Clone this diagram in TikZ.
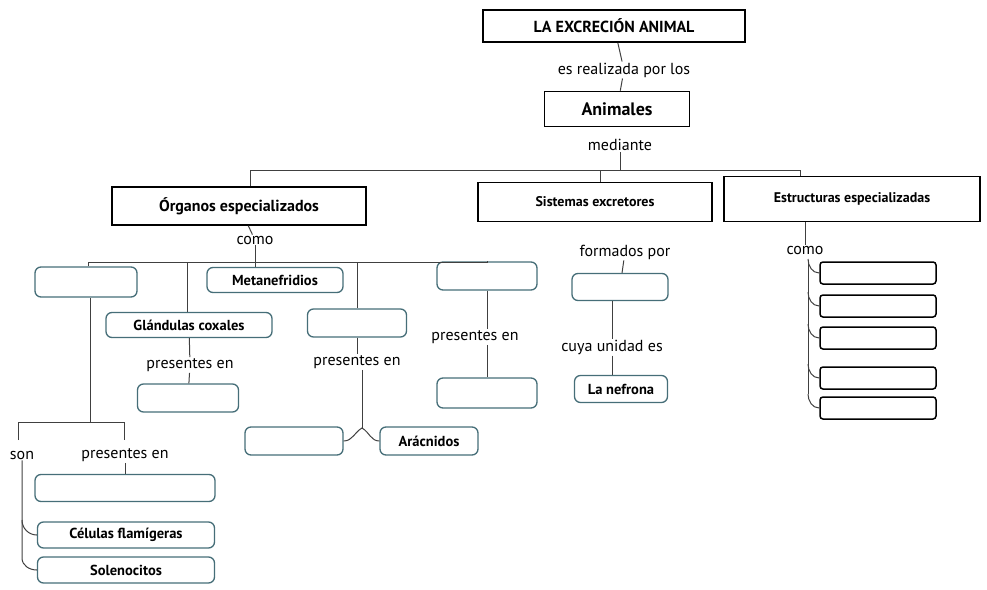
\documentclass[tikz,border=0pt]{standalone}
\usepackage{fontspec}
\setmainfont{PT Sans}
\definecolor{rb}{RGB}{70,110,120}
\begin{document}
\begin{tikzpicture}[x=1pt,y=-1pt,
  sq/.style={draw=black,line width=1.6pt,font=\bfseries\fontsize{16}{17}\selectfont},
  rb/.style={draw=rb,line width=1.3pt,rounded corners=6pt,fill=white,font=\bfseries\fontsize{14.5}{15}\selectfont,inner sep=1pt},
  eb/.style={draw=black,line width=1.5pt,rounded corners=3pt,fill=white},
  lab/.style={font=\fontsize{16}{17}\selectfont,inner sep=1pt},
  ln/.style={draw=black!75,line width=1pt}]
\useasboundingbox (0,0) rectangle (987,589);
% top
\node[sq,minimum width=262,minimum height=32] (t) at (614,26) {LA EXCRECIÓN ANIMAL};
\node[lab] (l1) at (624,70) {es realizada por los};
\node[sq,minimum width=145,minimum height=35,font=\bfseries\fontsize{18}{19}\selectfont] (an) at (617,109) {Animales};
\node[lab] (l2) at (620,145) {mediante};
\draw[ln] (t) -- (l1); \draw[ln] (l1) -- (an);
\node[sq,minimum width=254,minimum height=38] (org) at (239,206) {Órganos especializados};
\node[sq,minimum width=234,minimum height=39,font=\bfseries\fontsize{14}{15}\selectfont] (sis) at (595,202) {Sistemas excretores};
\node[sq,minimum width=256,minimum height=45,font=\bfseries\fontsize{14}{15}\selectfont] (est) at (852,199) {Estructuras especializadas};
\coordinate (b0) at (620,170);
\draw[ln] (l2) -- (b0);
\draw[ln] (org.north -| 250,0) -- (250,170) -- (800,170) -- (est.north -| 800,0);
\draw[ln] (600,170) -- (sis.north -| 600,0);
% organos
\node[lab] (como1) at (255,240) {como};
\draw[ln] (org) -- (como1);
\node[rb,minimum width=102,minimum height=30] (o1) at (86,282) {};
\node[rb,minimum width=136,minimum height=25] (meta) at (275,280) {Metanefridios};
\node[rb,minimum width=166,minimum height=25] (gla) at (189,325) {Glándulas coxales};
\node[rb,minimum width=99,minimum height=28] (o4) at (357,323) {};
\node[rb,minimum width=100,minimum height=28] (o5) at (487,276) {};
\draw[ln] (o1.north -| 88,0) -- (88,262) -- (487,262) -- (o5.north);
\draw[ln] (como1.south -| 255,0) -- (meta.north -| 255,0);
\draw[ln] (187,262) -- (gla.north -| 187,0);
\draw[ln] (357,262) -- (o4.north);
% o1 subtree
\coordinate (f1) at (90,422);
\draw[ln] (o1.south -| 90,0) -- (f1);
\node[lab] (son) at (22,455) {son};
\node[lab] (pe1) at (125,455) {presentes en};
\draw[ln] (18,440) -- (18,422) -- (124,422) -- (124,440);
\node[rb,minimum width=180,minimum height=27] (o11) at (125,488) {};
\draw[ln] (pe1) -- (o11);
\node[rb,minimum width=177,minimum height=26] (cel) at (126,535) {Células flamígeras};
\node[rb,minimum width=177,minimum height=26] (sol) at (126,570) {Solenocitos};
\draw[ln] (son.south -| 22,0) -- (22,558) to[out=-90,in=180] (sol.west);
\draw[ln] (22,520) to[out=-90,in=180] (cel.west);
% glandulas
\node[lab] (pe2) at (190,365) {presentes en};
\node[rb,minimum width=101,minimum height=28] (g1) at (188,398) {};
\draw[ln] (gla) -- (pe2); \draw[ln] (pe2) -- (g1);
% o4
\node[lab] (pe3) at (357,362) {presentes en};
\draw[ln] (o4) -- (pe3);
\node[rb,minimum width=98,minimum height=28] (o41) at (294,441) {};
\node[rb,minimum width=98,minimum height=28] (ara) at (429,441) {Arácnidos};
\coordinate (f2) at (362,428);
\draw[ln] (pe3.south -| 362,0) -- (f2);
\draw[ln] (o41.east) to[out=0,in=-150] (f2) to[out=-30,in=180] (ara.west);
% o5
\node[lab] (pe4) at (475,337) {presentes en};
\node[rb,minimum width=100,minimum height=30] (o51) at (487,393) {};
\draw[ln] (o5.south -| 487,0) -- (pe4.north -| 487,0);
\draw[ln] (pe4.south -| 487,0) -- (o51);
% sistemas
\node[lab] (fp) at (625,252) {formados por};
\node[rb,minimum width=96,minimum height=27] (s1) at (620,287) {};
\node[lab] (cu) at (612,347) {cuya unidad es};
\node[rb,minimum width=93,minimum height=27] (nef) at (621,389) {La nefrona};
\draw[ln] (fp) -- (s1); \draw[ln] (s1.south -| 612,0) -- (cu);
\draw[ln] (cu.south -| 612,0) -- (nef.north -| 612,0);
% estructuras
\node[lab] (como2) at (805,250) {como};
\draw[ln] (est.south -| 805,0) -- (como2);
\foreach \n/\y in {1/273,2/306,3/338,4/378,5/408}{
  \node[eb,minimum width=116,minimum height=22] (e\n) at (878,\y) {};
  \draw[ln] (808,\y-14) to[out=-90,in=180] (e\n.west);
}
\draw[ln] (808,260) -- (808,394);
\end{tikzpicture}
\end{document}
